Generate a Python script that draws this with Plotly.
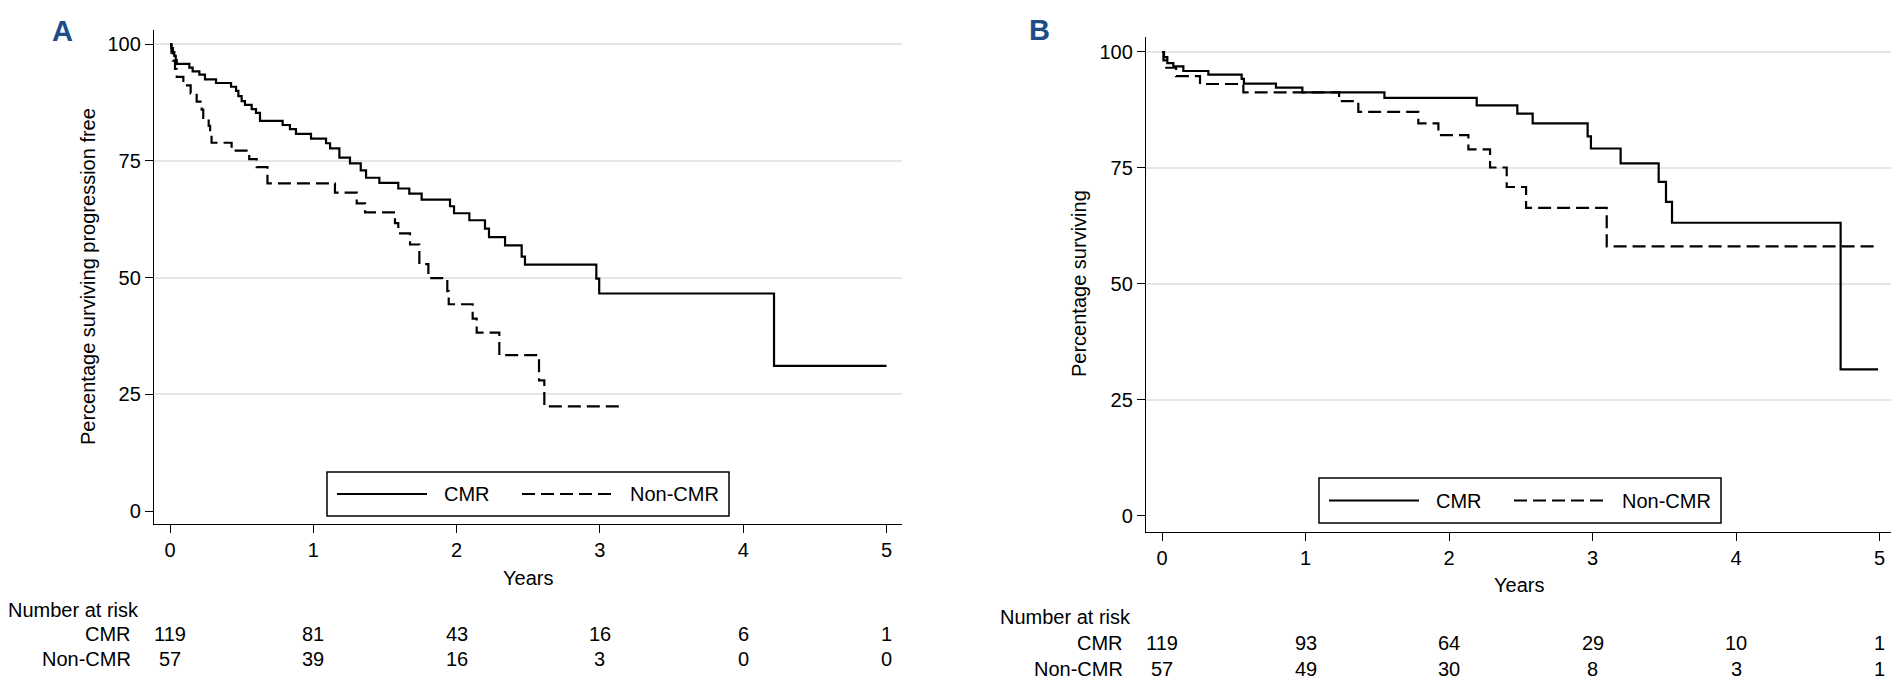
import plotly.graph_objects as go

W, H = 1891, 699
FONT = "Liberation Sans, Arial, sans-serif"

# ---------------- data ----------------
series_names = ["CMR", "Non-CMR"]
year_ticks = [0, 1, 2, 3, 4, 5]
pct_ticks = [0, 25, 50, 75, 100]

# Panel A: progression-free survival
a_cmr_t = [0, 0.010, 0.020, 0.030, 0.040, 0.047, 0.135, 0.158, 0.205, 0.244, 0.321, 0.426,
           0.461, 0.477, 0.500, 0.523, 0.570, 0.600, 0.628, 0.786, 0.837, 0.879, 0.984,
           1.089, 1.117, 1.182, 1.256, 1.331, 1.368, 1.461, 1.593, 1.670, 1.756, 1.954,
           1.982, 2.089, 2.198, 2.226, 2.338, 2.454, 2.477, 2.975, 2.995, 4.215, 5.0]
a_cmr_s = [100, 99.2, 98.3, 97.5, 96.6, 95.8, 95.0, 94.2, 93.5, 92.5, 91.7, 90.9,
           90.0, 88.9, 87.8, 87.0, 86.1, 85.3, 83.6, 82.7, 81.8, 80.8, 79.8,
           78.8, 77.7, 75.7, 74.5, 73.0, 71.4, 70.3, 69.1, 68.0, 66.7, 65.3,
           63.8, 62.3, 60.5, 58.7, 56.9, 54.5, 52.8, 49.8, 46.6, 31.1, 31.1]

a_non_t = [0, 0.010, 0.020, 0.035, 0.047, 0.093, 0.144, 0.186, 0.221, 0.232, 0.270, 0.280,
           0.290, 0.430, 0.553, 0.605, 0.680, 1.151, 1.303, 1.361, 1.570, 1.593, 1.675,
           1.740, 1.803, 1.935, 1.945, 2.112, 2.140, 2.298, 2.575, 2.612, 3.158]
a_non_s = [100, 98.2, 96.5, 94.7, 93.0, 91.2, 89.5, 87.7, 86.0, 84.2, 82.5, 80.7,
           78.9, 77.2, 75.4, 73.7, 70.2, 68.2, 65.9, 64.0, 61.7, 59.5, 57.1,
           52.9, 49.9, 47.1, 44.3, 41.2, 38.2, 33.4, 28.0, 22.4, 22.4]

# Panel B: overall survival
b_cmr_t = [0, 0.014, 0.037, 0.079, 0.149, 0.323, 0.555, 0.571, 0.794, 0.978, 1.550, 2.193,
           2.476, 2.583, 2.966, 2.989, 3.196, 3.461, 3.512, 3.554, 4.729, 4.99]
b_cmr_s = [100, 98.9, 97.6, 96.9, 95.9, 95.1, 94.2, 93.2, 92.3, 91.3, 90.1, 88.5,
           86.7, 84.6, 81.8, 79.2, 76.0, 72.0, 67.7, 63.2, 31.6, 31.6]

b_non_t = [0, 0.010, 0.030, 0.098, 0.265, 0.567, 1.234, 1.368, 1.786, 1.926, 2.135, 2.286,
           2.402, 2.537, 3.099, 4.99]
b_non_s = [100, 98.2, 96.6, 94.8, 93.1, 91.3, 89.4, 87.1, 84.6, 82.1, 79.0, 75.1,
           70.9, 66.4, 58.1, 58.1]

a_risk_cmr = [119, 81, 43, 16, 6, 1]
a_risk_non = [57, 39, 16, 3, 0, 0]
b_risk_cmr = [119, 93, 64, 29, 10, 1]
b_risk_non = [57, 49, 30, 8, 3, 1]

panel_titles = ["A", "B"]
y_titles = ["Percentage surviving progression free", "Percentage surviving"]
x_title = "Years"
risk_title = "Number at risk"

# ---------------- helpers ----------------
def px(x):
    return x / W

def py(y):
    return 1 - y / H

styles = [dict(color="black", width=2.2, dash="solid"),
          dict(color="black", width=2.2, dash="13px,6px")]

fig = go.Figure()
for (t, s), st, nm in zip([(a_cmr_t, a_cmr_s), (a_non_t, a_non_s)], styles, series_names):
    fig.add_trace(go.Scatter(x=t, y=s, mode="lines", name=nm, line=dict(shape="hv", **st),
                             xaxis="x", yaxis="y", showlegend=False, hoverinfo="skip"))
for (t, s), st, nm in zip([(b_cmr_t, b_cmr_s), (b_non_t, b_non_s)], styles, series_names):
    fig.add_trace(go.Scatter(x=t, y=s, mode="lines", name=nm, line=dict(shape="hv", **st),
                             xaxis="x2", yaxis="y2", showlegend=False, hoverinfo="skip"))

axis_common = dict(showline=True, linecolor="black", linewidth=1.3, ticks="outside",
                   ticklen=8, tickwidth=1.3, tickcolor="black",
                   tickfont=dict(family=FONT, size=20, color="black"))
xcommon = dict(axis_common, tickvals=year_ticks, showgrid=False, zeroline=False)
ycommon = dict(axis_common, tickvals=pct_ticks, showgrid=True, gridcolor="#e6e6e6",
               gridwidth=1.5, zeroline=True, zerolinecolor="white", zerolinewidth=3)

# Panel geometry (pixels)
A = dict(l=154, r=902, t=30, b=524)
B = dict(l=1146, r=1891, t=37, b=532)

fig.update_layout(
    width=W, height=H, margin=dict(l=0, r=0, t=0, b=0),
    paper_bgcolor="white", plot_bgcolor="white", showlegend=False,
    font=dict(family=FONT, size=20, color="black"),
    xaxis=dict(xcommon, domain=[px(A["l"]), px(A["r"])], range=[-0.1117, 5.108], anchor="y"),
    yaxis=dict(ycommon, domain=[py(A["b"]), py(A["t"])], range=[-2.785, 103.06], anchor="x"),
    xaxis2=dict(xcommon, domain=[px(B["l"]), px(B["r"])], range=[-0.1115, 5.080], anchor="y2"),
    yaxis2=dict(ycommon, domain=[py(B["b"]), py(B["t"])], range=[-3.45, 103.23], anchor="x2"),
)

ann = []
shapes = []

# panel letters
for letter, (lx, ly) in zip(panel_titles, [(63, 31), (1039, 30)]):
    ann.append(dict(text="<b>%s</b>" % letter, x=px(lx), y=py(ly), xref="paper", yref="paper",
                    showarrow=False, xanchor="center", yanchor="middle",
                    font=dict(family=FONT, size=29, color="#1c4d87")))

# axis titles
for txt, (cx, cy) in zip(y_titles, [(88, 277), (1079, 284)]):
    ann.append(dict(text=txt, x=px(cx), y=py(cy), xref="paper", yref="paper", textangle=-90,
                    showarrow=False, xanchor="center", yanchor="middle", font=dict(size=20)))
for cx, cy in [(528, 578), (1519, 585)]:
    ann.append(dict(text=x_title, x=px(cx), y=py(cy), xref="paper", yref="paper",
                    showarrow=False, xanchor="center", yanchor="middle", font=dict(size=20)))

# number at risk tables
tables = [
    dict(xref="x", left=6, right=133, rows=[610, 634, 659], data=[a_risk_cmr, a_risk_non]),
    dict(xref="x2", left=998, right=1125, rows=[617, 643, 669], data=[b_risk_cmr, b_risk_non]),
]
for tb in tables:
    ann.append(dict(text=risk_title, x=px(tb["left"]), y=py(tb["rows"][0]), xref="paper",
                    yref="paper", showarrow=False, xanchor="left", yanchor="middle"))
    for nm, row_y, vals in zip(series_names, tb["rows"][1:], tb["data"]):
        ann.append(dict(text=nm, x=px(tb["right"]), y=py(row_y), xref="paper", yref="paper",
                        showarrow=False, xanchor="right", yanchor="middle"))
        for tk, v in zip(year_ticks, vals):
            ann.append(dict(text=str(v), x=tk, y=py(row_y), xref=tb["xref"], yref="paper",
                            showarrow=False, xanchor="center", yanchor="middle"))

# legends (boxed, centred under each plot)
for (bx0, by0, bx1, by1) in [(327, 472, 729, 516), (1319, 478, 1721, 523)]:
    cy = (by0 + by1) / 2
    shapes.append(dict(type="rect", xref="paper", yref="paper", x0=px(bx0), x1=px(bx1),
                       y0=py(by1), y1=py(by0), line=dict(color="black", width=1.5),
                       fillcolor="white", layer="above"))
    offs = [(10, 100, 115), (195, 285, 301)]
    for (s0, s1, tx), st, nm in zip(offs, styles, series_names):
        shapes.append(dict(type="line", xref="paper", yref="paper", x0=px(bx0 + s0),
                           x1=px(bx0 + s1), y0=py(cy), y1=py(cy),
                           line=dict(color="black", width=2, dash=st["dash"])))
        ann.append(dict(text=nm, x=px(bx0 + tx), y=py(cy), xref="paper", yref="paper",
                        showarrow=False, xanchor="left", yanchor="middle"))

fig.update_layout(annotations=ann, shapes=shapes)
fig.write_html("out.html",
               config={"displayModeBar": False},
               post_script="document.body.style.margin='0';document.body.style.overflow='hidden';")
